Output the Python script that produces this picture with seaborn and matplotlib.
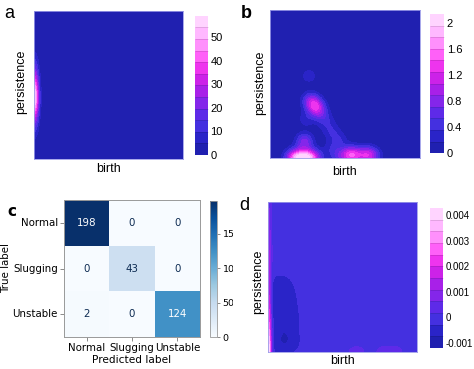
"""
Four-panel figure: persistence images (a, b), confusion matrix (c) and
the difference of two persistence images (d).
"""
import numpy as np
import pandas as pd
import matplotlib
matplotlib.use("Agg")
import matplotlib.pyplot as plt
import seaborn as sns
from matplotlib.colors import ListedColormap
from matplotlib.transforms import Bbox, TransformedBbox

# ---- panel a: H0 features, all born at 0 -------------------------------
A_BIRTH = [0, 0, 0, 0, 0, 0, 0, 0, 0]
A_PERS = [0.14, 0.22, 0.30, 0.37, 0.43, 0.50, 0.58, 0.66, 0.74]
A_WEIGHT = [1.9, 6.9, 16.2, 24.5, 27.4, 23.5, 13.5, 5.2, 1.3]
A_SIGMA = (0.022, 0.06)
A_RANGE = (0, 59)
A_TICKS = [0, 10, 20, 30, 40, 50]

# ---- panel b: H1 features -----------------------------------------------
B_BIRTH = [0.15, 0.20, 0.25, 0.30,
           0.46, 0.52, 0.56, 0.62, 0.66, 0.70,
           0.26,
           0.27, 0.30, 0.33,
           0.37, 0.41, 0.46, 0.24, 0.41,
           0.23]
B_PERS = [0.0, 0.0, 0.0, 0.0,
          0.01, 0.02, 0.02, 0.02, 0.02, 0.01,
          0.555,
          0.39, 0.35, 0.31,
          0.25, 0.18, 0.12, 0.26, 0.06,
          0.11]
B_WEIGHT = [0.9, 1.2, 1.2, 0.7,
            0.4, 0.7, 0.8, 0.5, 0.7, 0.3,
            0.26,
            0.6, 0.9, 0.5,
            0.3, 0.3, 0.3, 0.25, 0.25,
            0.75]
B_SIGMA = (0.04, 0.04)
B_RANGE = (0, 2.13)
B_TICKS = [0, 0.4, 0.8, 1.2, 1.6, 2.0]
B_TICKLABELS = ["0", "0.4", "0.8", "1.2", "1.6", "2"]

# ---- panel c: confusion matrix ------------------------------------------
CLASSES = ["Normal", "Slugging", "Unstable"]
CONFUSION = [[198, 0, 0],
             [0, 43, 0],
             [2, 0, 124]]
C_TICKS = [0, 50, 100, 150]

# ---- panel d: difference image -------------------------------------------
# narrow positive strip along birth = 0
D_EDGE_BIRTH = [0, 0, 0, 0, 0, 0, 0, 0]
D_EDGE_PERS = [0.0, 0.12, 0.25, 0.38, 0.52, 0.66, 0.80, 0.94]
D_EDGE_WEIGHT = [0.0042, 0.0032, 0.0024, 0.0018, 0.0014, 0.0011, 0.0009, 0.0007]
D_EDGE_SIGMA = (0.014, 0.06)
# broad negative lobe
D_LOBE_BIRTH = [0.11, 0.11, 0.095, 0.085]
D_LOBE_PERS = [0.07, 0.22, 0.34, 0.45]
D_LOBE_WEIGHT = [-0.00072, -0.00055, -0.00048, -0.0004]
D_LOBE_SIGMA = (0.075, 0.07)
# small positive bumps along the bottom
D_BUMP_BIRTH = [0.595, 0.78, 0.85]
D_BUMP_PERS = [0.0, 0.0, 0.0]
D_BUMP_WEIGHT = [0.00045, 0.00045, 0.00045]
D_BUMP_SIGMA = (0.035, 0.025)
D_RANGE = (-0.0012, 0.00427)
D_TICKS = [-0.001, 0, 0.001, 0.002, 0.003, 0.004]
D_TICKLABELS = ["-0.001", "0", "0.001", "0.002", "0.003", "0.004"]

BAND_COLORS = ["#2020b0", "#2a24c8", "#4430e0", "#5e2ae8", "#8426ea", "#a820e8",
               "#cc22e8", "#ee34ee", "#ff60f8", "#ff90fc", "#ffb8ff", "#ffd4ff"]

GRID = np.linspace(0, 1, 300)
SANS = ["Liberation Sans", "DejaVu Sans"]


def persistence_image(births, pers, weights, sigma):
    xx, yy = np.meshgrid(GRID, GRID)
    z = np.zeros_like(xx)
    for b, p, w in zip(births, pers, weights):
        z += w * np.exp(-((xx - b) ** 2 / (2 * sigma[0] ** 2)
                          + (yy - p) ** 2 / (2 * sigma[1] ** 2)))
    return z


def draw_image(fig, rect, cbar_rect, z, vrange, ticks, ticklabels, tick_size):
    ax = fig.add_axes(rect)
    cax = fig.add_axes(cbar_rect)
    levels = np.linspace(vrange[0], vrange[1], 13)
    z = np.clip(z, vrange[0], vrange[1] - 1e-12)
    cs = ax.contourf(GRID, GRID, z, levels=levels, cmap=ListedColormap(BAND_COLORS))
    ax.set_xticks([])
    ax.set_yticks([])
    for s in ax.spines.values():
        s.set_color("#9a9ae8")
        s.set_linewidth(0.6)
    ax.set_xlabel("birth", family=SANS, fontsize=9)
    ax.set_ylabel("persistence", family=SANS, fontsize=9)
    cb = fig.colorbar(cs, cax=cax, drawedges=True)
    cb.dividers.set_color("#00000022")
    cb.dividers.set_linewidth(0.6)
    cb.outline.set_visible(False)
    cb.set_ticks(ticks)
    cb.set_ticklabels(ticklabels)
    cax.tick_params(length=0, pad=2)
    for t in cax.get_yticklabels():
        t.set_family(SANS)
        t.set_fontsize(tick_size)
    return ax


fig = plt.figure(figsize=(4.74, 3.69), dpi=100)

# a
za = persistence_image(A_BIRTH, A_PERS, A_WEIGHT, A_SIGMA)
ax_a = draw_image(fig, [0.0717, 0.569, 0.3143, 0.401], [0.411, 0.580, 0.0274, 0.377],
                  za, A_RANGE, A_TICKS, [str(t) for t in A_TICKS], 8)
ax_a.xaxis.set_label_coords(0.5, -0.025)
ax_a.yaxis.set_label_coords(-0.045, 0.52)

# b
zb = persistence_image(B_BIRTH, B_PERS, B_WEIGHT, B_SIGMA)
ax_b = draw_image(fig, [0.5696, 0.572, 0.3165, 0.401], [0.907, 0.585, 0.0295, 0.377],
                  zb, B_RANGE, B_TICKS, B_TICKLABELS, 8)
ax_b.xaxis.set_label_coords(0.5, -0.055)
ax_b.yaxis.set_label_coords(-0.027, 0.51)

# d
zd = (persistence_image(D_EDGE_BIRTH, D_EDGE_PERS, D_EDGE_WEIGHT, D_EDGE_SIGMA)
      + persistence_image(D_LOBE_BIRTH, D_LOBE_PERS, D_LOBE_WEIGHT, D_LOBE_SIGMA)
      + persistence_image(D_BUMP_BIRTH, D_BUMP_PERS, D_BUMP_WEIGHT, D_BUMP_SIGMA))
ax_d = draw_image(fig, [0.5654, 0.046, 0.3143, 0.4065], [0.907, 0.0569, 0.0274, 0.379],
                  zd, D_RANGE, D_TICKS, D_TICKLABELS, 7)
ax_d.xaxis.set_label_coords(0.5, -0.02)
ax_d.yaxis.set_label_coords(-0.027, 0.47)

# c: confusion matrix
ax_c = fig.add_axes([0.135, 0.0867, 0.287, 0.371])
cax_c = fig.add_axes([0.443, 0.0867, 0.0148, 0.3686])
cm = pd.DataFrame(CONFUSION, index=CLASSES, columns=CLASSES)
sns.heatmap(cm, ax=ax_c, cbar_ax=cax_c, cmap="Blues", vmin=0, vmax=cm.values.max(),
            annot=True, fmt="d", annot_kws={"fontsize": 7.4})
for t in ax_c.texts:
    if t.get_color() != "w":
        t.set_color("#0d2b52")
for s in ax_c.spines.values():
    s.set_visible(True)
    s.set_color("#999999")
    s.set_linewidth(0.7)
ax_c.tick_params(length=3, width=0.6, color="#777777", labelsize=7.4, pad=1.5)
ax_c.set_yticklabels(CLASSES, rotation=0)
ax_c.set_xticklabels(CLASSES, rotation=0)
ax_c.set_xlabel("Predicted label", fontsize=7.6, labelpad=1)
ax_c.set_ylabel("True label", fontsize=7.4, labelpad=1)
cb_c = ax_c.collections[0].colorbar
cb_c.set_ticks(C_TICKS)
cb_c.outline.set_edgecolor("#999999")
cb_c.outline.set_linewidth(0.6)
cax_c.tick_params(length=2.5, width=0.6, color="#777777", labelsize=6.8, pad=1.5)
# the right part of these labels is hidden behind panel d in the original
clip = TransformedBbox(Bbox([[0, 0], [0.4916, 1]]), fig.transFigure)
for t in cax_c.get_yticklabels():
    t.set_clip_on(True)
    t.set_clip_box(clip)

# panel letters
fig.text(0.010, 0.952, "a", family=SANS, fontsize=13)
fig.text(0.509, 0.952, "b", family=SANS, fontsize=13, fontweight="bold")
fig.text(0.015, 0.415, "c", fontsize=11, fontweight="bold")
fig.text(0.505, 0.432, "d", family=SANS, fontsize=13)

fig.savefig("out.png", dpi=100)
